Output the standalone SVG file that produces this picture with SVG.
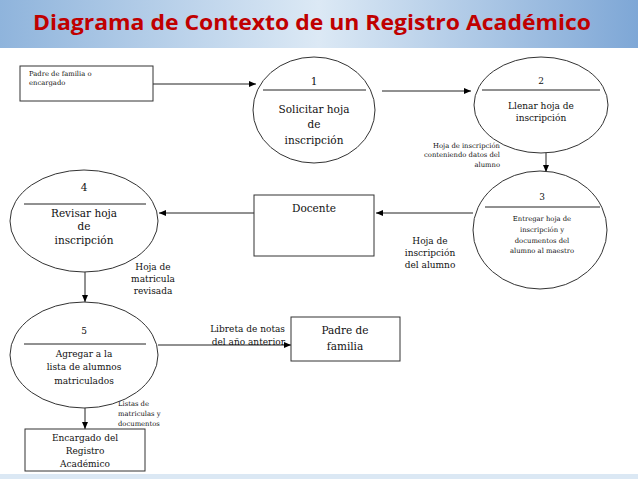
<svg xmlns="http://www.w3.org/2000/svg" width="638" height="479" viewBox="0 0 638 479" font-family="'DejaVu Serif', 'Liberation Serif', serif">
<defs>
<linearGradient id="bg" x1="0" y1="0" x2="1" y2="0"><stop offset="0" stop-color="#8fb4dc"/><stop offset="0.5" stop-color="#dce9f5"/><stop offset="1" stop-color="#7ea7d6"/></linearGradient>
<marker id="ar" markerWidth="8" markerHeight="8" refX="7" refY="4" orient="auto" markerUnits="userSpaceOnUse"><path d="M0,1 L7,4 L0,7 Z" fill="#000"/></marker>
<style>
.s{fill:#fff;stroke:#333;stroke-width:1}
.c{fill:none;stroke:#222;stroke-width:1;marker-end:url(#ar)}
text{fill:#111;text-anchor:middle}
.t{font-size:10.5px}.m{font-size:9px}.sm{font-size:6.8px}
</style>
</defs>
<rect width="638" height="479" fill="#fff"/>
<rect width="638" height="48" fill="url(#bg)"/>
<rect y="474" width="638" height="5" fill="#dbe8f4"/>
<text x="312" y="30" font-family="'Open Sans', sans-serif" font-weight="bold" font-size="22" style="fill:#c00000" textLength="558" lengthAdjust="spacingAndGlyphs">Diagrama de Contexto de un Registro Académico</text>
<g id="connectors">
<line class="c" x1="153" y1="84" x2="256" y2="84"/>
<line class="c" x1="382" y1="91" x2="471" y2="91"/>
<line class="c" x1="546" y1="152" x2="546" y2="172"/>
<line class="c" x1="473" y1="213" x2="376" y2="213"/>
<line class="c" x1="254" y1="213" x2="159" y2="213"/>
<line class="c" x1="85" y1="272" x2="85" y2="302"/>
<line class="c" x1="158" y1="345" x2="291" y2="345"/>
<line class="c" x1="85" y1="408" x2="85" y2="429"/>
<text x="500" y="148" class="sm" style="text-anchor:end">Hoja de inscripción</text><text x="500" y="157" class="sm" style="text-anchor:end">conteniendo datos del</text><text x="500" y="167" class="sm" style="text-anchor:end">alumno</text>
<text class="m" x="430" y="244">Hoja de</text><text class="m" x="430" y="256">inscripción</text><text class="m" x="430" y="268">del alumno</text>
<text class="m" x="153" y="270">Hoja de</text><text class="m" x="153" y="282">matricula</text><text class="m" x="153" y="294">revisada</text>
<text class="m" x="285" y="332" style="text-anchor:end">Libreta de notas</text><text class="m" x="285" y="345" style="text-anchor:end">del año anterior</text>
<text class="sm" x="118" y="406" style="text-anchor:start">Listas de</text><text class="sm" x="118" y="416" style="text-anchor:start">matriculas y</text><text class="sm" x="118" y="426" style="text-anchor:start">documentos</text>
</g>
<g id="padre-encargado"><rect class="s" x="20" y="66" width="133" height="35"/><text class="sm" x="29" y="76" style="text-anchor:start">Padre de familia o</text><text class="sm" x="29" y="85" style="text-anchor:start">encargado</text></g>
<g id="p1"><ellipse class="s" cx="314" cy="110" rx="61" ry="53"/><line x1="263" y1="90" x2="366" y2="90" stroke="#222"/><text class="t" x="314" y="85">1</text><text class="t" x="314" y="113">Solicitar hoja</text><text class="t" x="314" y="128">de</text><text class="t" x="314" y="144">inscripción</text></g>
<g id="p2"><ellipse class="s" cx="541" cy="105" rx="67" ry="48"/><line x1="482" y1="90" x2="600" y2="90" stroke="#222"/><text class="m" x="541" y="84">2</text><text class="m" x="541" y="109">Llenar hoja de</text><text class="m" x="541" y="121">inscripción</text></g>
<g id="p3"><ellipse class="s" cx="540" cy="230" rx="67" ry="59"/><line x1="485" y1="207" x2="600" y2="207" stroke="#222"/><text class="m" x="542" y="200">3</text><text class="sm" x="542" y="221">Entregar hoja de</text><text class="sm" x="542" y="232">inscripción  y</text><text class="sm" x="542" y="243">documentos del</text><text class="sm" x="542" y="253">alumno al maestro</text></g>
<g id="docente"><rect class="s" x="254" y="195" width="120" height="61"/><text class="t" x="314" y="212">Docente</text></g>
<g id="p4"><ellipse class="s" cx="84" cy="221" rx="74" ry="51"/><line x1="24" y1="204" x2="146" y2="204" stroke="#222"/><text class="t" x="84" y="191">4</text><text class="t" x="84" y="217">Revisar hoja</text><text class="t" x="84" y="230">de</text><text class="t" x="84" y="244">inscripción</text></g>
<g id="p5"><ellipse class="s" cx="84" cy="355" rx="74" ry="53"/><line x1="24" y1="344" x2="146" y2="344" stroke="#222"/><text class="m" x="84" y="334">5</text><text class="m" x="84" y="357">Agregar a la</text><text class="m" x="84" y="370">lista de alumnos</text><text class="m" x="84" y="384">matriculados</text></g>
<g id="padre-familia"><rect class="s" x="291" y="317" width="109" height="44"/><text class="t" x="345" y="334">Padre de</text><text class="t" x="345" y="350">familia</text></g>
<g id="encargado-registro"><rect class="s" x="25" y="429" width="120" height="42"/><text class="m" x="85" y="441">Encargado del</text><text class="m" x="85" y="454">Registro</text><text class="m" x="85" y="467">Académico</text></g>
</svg>
